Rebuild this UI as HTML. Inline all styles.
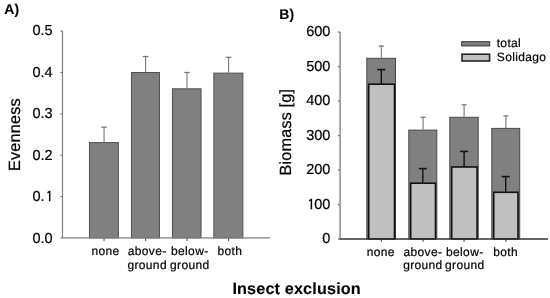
<!DOCTYPE html>
<html><head><meta charset="utf-8"><style>
html,body{margin:0;padding:0;background:#fff;width:550px;height:298px;overflow:hidden}
svg{display:block;font-family:"Liberation Sans", Arial, sans-serif;text-rendering:geometricPrecision}
.t{fill:#000;stroke:#000;stroke-width:0.2px}
.b{stroke-width:0.1px}
</style></head><body>
<svg width="550" height="298" viewBox="0 0 550 298">
<rect width="550" height="298" fill="#fff"/>
<line x1="60.6" y1="237.9" x2="62.5" y2="237.9" stroke="#606060" stroke-width="1.1"/>
<text class="t" x="32.44" y="242.57" font-size="14.5">0.0</text>
<line x1="60.6" y1="196.54" x2="62.5" y2="196.54" stroke="#606060" stroke-width="1.1"/>
<text class="t" x="32.44" y="201.01" font-size="14.5">0.<tspan font-family="IPAGothic, &quot;Liberation Sans&quot;, sans-serif" font-size="14.8" dx="1.3" dy="0.75">1</tspan><tspan dx="-0.64" dy="-0.75"></tspan></text>
<line x1="60.6" y1="155.18" x2="62.5" y2="155.18" stroke="#606060" stroke-width="1.1"/>
<text class="t" x="32.44" y="159.85" font-size="14.5">0.2</text>
<line x1="60.6" y1="113.82" x2="62.5" y2="113.82" stroke="#606060" stroke-width="1.1"/>
<text class="t" x="32.44" y="117.76" font-size="14.5">0.3</text>
<line x1="60.6" y1="72.46" x2="62.5" y2="72.46" stroke="#606060" stroke-width="1.1"/>
<text class="t" x="32.44" y="77.13" font-size="14.5">0.4</text>
<line x1="60.6" y1="31.1" x2="62.5" y2="31.1" stroke="#606060" stroke-width="1.1"/>
<text class="t" x="32.44" y="35.15" font-size="14.5">0.5</text>
<line x1="104.05" y1="127.1" x2="104.05" y2="142.1" stroke="#787878" stroke-width="1.1"/>
<line x1="101.35" y1="127.1" x2="106.75" y2="127.1" stroke="#787878" stroke-width="1.3"/>
<rect x="89.45" y="142.6" width="28.9" height="95.3" fill="#808080" stroke="#505050" stroke-width="1"/>
<line x1="104.05" y1="237.9" x2="104.05" y2="240.9" stroke="#555" stroke-width="1.1"/>
<line x1="145.6" y1="56.5" x2="145.6" y2="72" stroke="#787878" stroke-width="1.1"/>
<line x1="142.9" y1="56.5" x2="148.3" y2="56.5" stroke="#787878" stroke-width="1.3"/>
<rect x="131.45" y="72.5" width="28" height="165.4" fill="#808080" stroke="#505050" stroke-width="1"/>
<line x1="145.6" y1="237.9" x2="145.6" y2="240.9" stroke="#555" stroke-width="1.1"/>
<line x1="187" y1="72.5" x2="187" y2="88.3" stroke="#787878" stroke-width="1.1"/>
<line x1="184.3" y1="72.5" x2="189.7" y2="72.5" stroke="#787878" stroke-width="1.3"/>
<rect x="172.45" y="88.8" width="28.6" height="149.1" fill="#808080" stroke="#505050" stroke-width="1"/>
<line x1="187" y1="237.9" x2="187" y2="240.9" stroke="#555" stroke-width="1.1"/>
<line x1="228.6" y1="57.3" x2="228.6" y2="72.6" stroke="#787878" stroke-width="1.1"/>
<line x1="225.9" y1="57.3" x2="231.3" y2="57.3" stroke="#787878" stroke-width="1.3"/>
<rect x="213.85" y="73.1" width="29" height="164.8" fill="#808080" stroke="#505050" stroke-width="1"/>
<line x1="228.6" y1="237.9" x2="228.6" y2="240.9" stroke="#555" stroke-width="1.1"/>
<line x1="62.5" y1="31.1" x2="62.5" y2="237.9" stroke="#808080" stroke-width="1.2"/>
<line x1="62.5" y1="237.9" x2="270" y2="237.9" stroke="#808080" stroke-width="1.4"/>
<text class="t" x="105.58" y="255.1" text-anchor="middle" font-size="12" letter-spacing="0.35">none</text>
<text class="t" x="147.18" y="255.1" text-anchor="middle" font-size="12" letter-spacing="0.35">above-</text>
<text class="t" x="147.18" y="268.7" text-anchor="middle" font-size="12" letter-spacing="0.35">ground</text>
<text class="t" x="189.78" y="255.1" text-anchor="middle" font-size="12" letter-spacing="0.35">below-</text>
<text class="t" x="189.78" y="268.7" text-anchor="middle" font-size="12" letter-spacing="0.35">ground</text>
<text class="t" x="229.88" y="255.1" text-anchor="middle" font-size="12" letter-spacing="0.35">both</text>
<line x1="338" y1="239.2" x2="340" y2="239.2" stroke="#666" stroke-width="1.2"/>
<text class="t" x="322.34" y="243.27" font-size="14.5">0</text>
<line x1="338" y1="204.7" x2="340" y2="204.7" stroke="#666" stroke-width="1.2"/>
<text class="t" x="306.21" y="209.25" font-size="14.5"><tspan font-family="IPAGothic, &quot;Liberation Sans&quot;, sans-serif" font-size="14.8" dx="1.3" dy="0.75">1</tspan><tspan dx="-0.64" dy="-0.75">00</tspan></text>
<line x1="338" y1="170.2" x2="340" y2="170.2" stroke="#666" stroke-width="1.2"/>
<text class="t" x="306.21" y="174.07" font-size="14.5">200</text>
<line x1="338" y1="135.7" x2="340" y2="135.7" stroke="#666" stroke-width="1.2"/>
<text class="t" x="306.21" y="139.8" font-size="14.5">300</text>
<line x1="338" y1="101.2" x2="340" y2="101.2" stroke="#666" stroke-width="1.2"/>
<text class="t" x="306.21" y="105.23" font-size="14.5">400</text>
<line x1="338" y1="66.7" x2="340" y2="66.7" stroke="#666" stroke-width="1.2"/>
<text class="t" x="306.21" y="70.82" font-size="14.5">500</text>
<line x1="338" y1="32.2" x2="340" y2="32.2" stroke="#666" stroke-width="1.2"/>
<text class="t" x="306.21" y="35.74" font-size="14.5">600</text>
<line x1="381.3" y1="46" x2="381.3" y2="57.8" stroke="#787878" stroke-width="1.1"/>
<line x1="378.8" y1="46" x2="383.8" y2="46" stroke="#787878" stroke-width="1.3"/>
<rect x="366.8" y="58.3" width="28.7" height="180.6" fill="#808080" stroke="#4a4a4a" stroke-width="1"/>
<line x1="423.1" y1="117.3" x2="423.1" y2="129.6" stroke="#787878" stroke-width="1.1"/>
<line x1="420.6" y1="117.3" x2="425.6" y2="117.3" stroke="#787878" stroke-width="1.3"/>
<rect x="408.8" y="130.1" width="28" height="108.8" fill="#808080" stroke="#4a4a4a" stroke-width="1"/>
<line x1="464.1" y1="104.8" x2="464.1" y2="116.8" stroke="#787878" stroke-width="1.1"/>
<line x1="461.6" y1="104.8" x2="466.6" y2="104.8" stroke="#787878" stroke-width="1.3"/>
<rect x="449.8" y="117.3" width="28.4" height="121.6" fill="#808080" stroke="#4a4a4a" stroke-width="1"/>
<line x1="505.9" y1="115.9" x2="505.9" y2="127.9" stroke="#787878" stroke-width="1.1"/>
<line x1="503.4" y1="115.9" x2="508.4" y2="115.9" stroke="#787878" stroke-width="1.3"/>
<rect x="491.8" y="128.4" width="27.9" height="110.5" fill="#808080" stroke="#4a4a4a" stroke-width="1"/>
<line x1="381.3" y1="69.6" x2="381.3" y2="84.2" stroke="#111" stroke-width="1.4"/>
<line x1="377.3" y1="69.6" x2="385.3" y2="69.6" stroke="#111" stroke-width="1.6"/>
<rect x="368.7" y="84.2" width="25.8" height="154.7" fill="#c0c0c0" stroke="#111" stroke-width="1.6"/>
<line x1="422.8" y1="168.6" x2="422.8" y2="183.2" stroke="#111" stroke-width="1.4"/>
<line x1="418.8" y1="168.6" x2="426.8" y2="168.6" stroke="#111" stroke-width="1.6"/>
<rect x="410.7" y="183.2" width="24.8" height="55.7" fill="#c0c0c0" stroke="#111" stroke-width="1.6"/>
<line x1="464.1" y1="151.4" x2="464.1" y2="167" stroke="#111" stroke-width="1.4"/>
<line x1="460.1" y1="151.4" x2="468.1" y2="151.4" stroke="#111" stroke-width="1.6"/>
<rect x="451.7" y="167" width="25.4" height="71.9" fill="#c0c0c0" stroke="#111" stroke-width="1.6"/>
<line x1="505.7" y1="176.6" x2="505.7" y2="192.3" stroke="#111" stroke-width="1.4"/>
<line x1="501.7" y1="176.6" x2="509.7" y2="176.6" stroke="#111" stroke-width="1.6"/>
<rect x="493.7" y="192.3" width="24.3" height="46.6" fill="#c0c0c0" stroke="#111" stroke-width="1.6"/>
<line x1="381.3" y1="238.9" x2="381.3" y2="241.7" stroke="#333" stroke-width="1"/>
<line x1="423.1" y1="238.9" x2="423.1" y2="241.7" stroke="#333" stroke-width="1"/>
<line x1="464.1" y1="238.9" x2="464.1" y2="241.7" stroke="#333" stroke-width="1"/>
<line x1="505.9" y1="238.9" x2="505.9" y2="241.7" stroke="#333" stroke-width="1"/>
<line x1="340.1" y1="31.9" x2="340.1" y2="238.9" stroke="#929292" stroke-width="1.6"/>
<line x1="340" y1="238.9" x2="548" y2="238.9" stroke="#333" stroke-width="1.5"/>
<text class="t" x="380.68" y="255.6" text-anchor="middle" font-size="12" letter-spacing="0.35">none</text>
<text class="t" x="422.88" y="255.6" text-anchor="middle" font-size="12" letter-spacing="0.35">above-</text>
<text class="t" x="422.88" y="269.2" text-anchor="middle" font-size="12" letter-spacing="0.35">ground</text>
<text class="t" x="464.78" y="255.6" text-anchor="middle" font-size="12" letter-spacing="0.35">below-</text>
<text class="t" x="464.78" y="269.2" text-anchor="middle" font-size="12" letter-spacing="0.35">ground</text>
<text class="t" x="505.57" y="255.6" text-anchor="middle" font-size="12" letter-spacing="0.35">both</text>
<rect x="461.7" y="41.7" width="28" height="4.2" fill="#808080" stroke="#404040" stroke-width="1.1"/>
<rect x="462" y="54.2" width="27.6" height="6.8" fill="#c0c0c0" stroke="#262626" stroke-width="1.6"/>
<text class="t" x="496.7" y="47.2" font-size="12" letter-spacing="0.35">total</text>
<text class="t" x="496.8" y="61.2" font-size="12" letter-spacing="0.35">Solidago</text>
<text class="t b" x="4.3" y="13.5" font-size="14" font-weight="bold">A)</text>
<text class="t b" x="279.3" y="18.6" font-size="14" font-weight="bold">B)</text>
<text class="t" transform="translate(20.4,171.1) rotate(-90)" font-size="16.3" letter-spacing="0.17">Evenness</text>
<text class="t" transform="translate(291.2,175.4) rotate(-90)" font-size="16.2" letter-spacing="0.18">Biomass [g]</text>
<text class="t b" x="232.4" y="293.8" font-size="16.2" letter-spacing="0.16" font-weight="bold">Insect exclusion</text>
</svg>
</body></html>
